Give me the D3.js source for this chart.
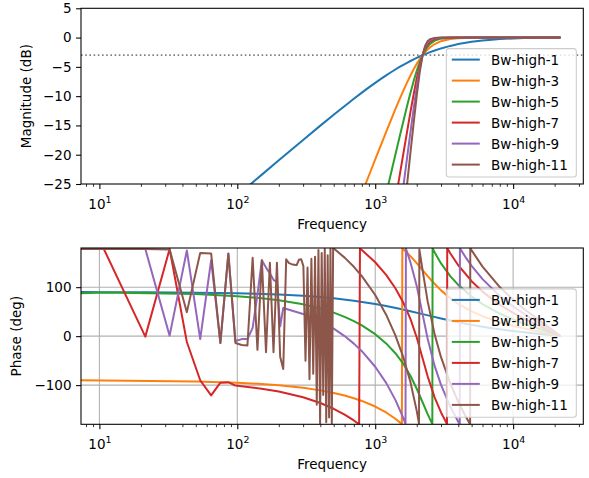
<!DOCTYPE html>
<html>
<head>
<meta charset="utf-8">
<script src="https://cdn.jsdelivr.net/npm/d3@7"></script>
<style>
    body { margin: 0; background: #fff; }
    svg text { font-family: "DejaVu Sans", sans-serif; fill: #000; }
</style>
</head>
<body>
<div id="chart"></div>
<script>
// legend labels and the matplotlib tab10 colours
const seriesNames = ['Bw-high-1', 'Bw-high-3', 'Bw-high-5', 'Bw-high-7', 'Bw-high-9', 'Bw-high-11'];
const seriesColors = ['#1f77b4', '#ff7f0e', '#2ca02c', '#d62728', '#9467bd', '#8c564b'];

// tick values
const xMajorTicks = [10, 100, 1000, 10000];
const xMajorExponents = ['1', '2', '3', '4'];
const magTicks = [5, 0, -5, -10, -15, -20, -25];
const phaseTicks = [-100, 0, 100];
const cutoffLevel = -3;

// magnitude (dB)
const magFreq = [100, 150, 200, 300, 400, 500, 700, 800, 900, 1000, 1100, 1200, 1300, 1400, 1500, 1600, 1700, 1800, 1900, 2000,
    2100, 2205, 2300, 2400, 2500, 2700, 3000, 3500, 4000, 5000, 6000, 7000, 8000, 10000, 12000, 15000, 18000, 22039];
const mag1 = [-26.95, -23.44, -20.95, -17.47, -15.03, -13.17, -10.44, -9.40, -8.50, -7.73, -7.05, -6.45, -5.92, -5.45, -5.02, -4.65, -4.30, -4.00, -3.72, -3.46,
    -3.23, -3.01, -2.83, -2.65, -2.49, -2.20, -1.85, -1.42, -1.11, -0.72, -0.50, -0.35, -0.26, -0.14, -0.08, -0.03, -0.01, 0];
const mag3 = [-80.8, -70.25, -62.76, -52.19, -44.69, -38.87, -30.10, -26.62, -23.55, -20.81, -18.35, -16.11, -14.08, -12.23, -10.55, -9.04, -7.68, -6.47, -5.41, -4.49,
    -3.70, -3.01, -2.49, -2.03, -1.66, -1.10, -0.61, -0.24, -0.11, -0.03, -0.01, 0, 0, 0, 0, 0, 0, 0];
const mag5 = [null, null, null, null, null, null, null, null, -39.2, -34.63, -30.48, -26.69, -23.20, -19.99, -17.01, -14.27, -11.74, -9.46, -7.43, -5.67,
    -4.22, -3.01, -2.18, -1.53, -1.07, -0.52, -0.18, -0.04, -0.01, 0, 0, 0, 0, 0, 0, 0, 0, 0];
const mag7 = [null, null, null, null, null, null, null, null, null, null, -42.66, -37.35, -32.46, -27.93, -23.71, -19.79, -16.13, -12.74, -9.68, -6.99,
    -4.77, -3.01, -1.90, -1.14, -0.67, -0.23, -0.05, -0.01, 0, 0, 0, 0, 0, 0, 0, 0, 0, 0];
const mag9 = [null, null, null, null, null, null, null, null, null, null, null, null, -41.73, -35.90, -30.47, -25.39, -20.63, -16.19, -12.08, -8.42,
    -5.37, -3.01, -1.65, -0.83, -0.41, -0.10, -0.02, 0, 0, 0, 0, 0, 0, 0, 0, 0, 0, 0];
const mag11 = [null, null, null, null, null, null, null, null, null, null, null, null, null, -43.87, -37.24, -31.02, -25.19, -19.70, -14.58, -9.93,
    -5.99, -3.01, -1.43, -0.61, -0.25, -0.05, 0, 0, 0, 0, 0, 0, 0, 0, 0, 0, 0, 0];

// phase (deg); 0 Hz sits on the left edge
const phaseFreq1 = [0, 10.77, 21.53, 50, 100, 150, 200, 300, 400, 500, 700, 1000, 1200, 1500, 1800, 2205, 2500, 3000, 3500, 4000,
    5000, 6000, 7000, 8000, 10000, 12000, 15000, 18000, 22039];
const phase1 = [90, 89.72, 89.45, 88.71, 87.42, 86.14, 84.86, 82.31, 79.80, 77.32, 72.51, 65.75, 61.58, 55.89, 50.85, 45, 41.35, 36.12, 31.88, 28.40,
    23.06, 19.17, 16.22, 13.88, 10.39, 7.84, 4.97, 2.69, 0.01];

const phaseFreq3 = [0, 10.77, 50, 100, 150, 200, 300, 400, 500, 600, 700, 800, 1000, 1200, 1400, 1561, 1572, 1600, 1800, 2000,
    2205, 2400, 2700, 3000, 3500, 4000, 5000, 6000, 8000, 10000, 12000, 15000, 18000, 22039];
const phase3 = [-90, -90.56, -92.58, -95.16, -97.74, -100.32, -105.51, -110.73, -116.00, -121.32, -126.77, -132.30, -143.74, -155.84, -168.72, -179.67, 179.60, 177.59, 163.35, 149.06,
    135, 122.73, 106.52, 93.48, 77.29, 65.78, 50.53, 40.75, 28.63, 21.14, 15.84, 9.98, 5.39, 0.02];

const phaseFreq5 = [0, 10.77, 50, 100, 150, 200, 300, 400, 500, 600, 700, 800, 1000, 1200, 1400, 1600, 1800, 2000, 2205, 2400,
    2595, 2606, 2700, 3000, 3500, 4000, 5000, 6000, 8000, 10000, 12000, 15000, 18000, 22039];
const phase5 = [87.5, 89.1, 85.83, 81.66, 77.48, 73.30, 64.92, 56.50, 48.02, 39.47, 30.80, 22.03, 4.05, -14.79, -34.86, -56.73, -80.95, -107.37, -135, -159.18,
    -179.59, 179.34, 170.72, 148.50, 122.62, 104.71, 80.94, 65.53, 46.19, 34.15, 25.61, 16.14, 8.72, 0.03];

const phaseFreq7 = [0, 10.77, 21.53, 32.30, 43.07, 53.83, 64.60, 75.37, 86.13, 96.90, 150, 200, 300, 400, 500, 600, 700, 764.4, 775.2, 800,
    1000, 1200, 1400, 1600, 1800, 2000, 2205, 2400, 2700, 3000, 3316, 3327, 3500, 4000, 5000, 6000, 8000, 10000, 12000, 15000,
    18000, 22039];
const phase7 = [178, 178, -1, 178, -12, -90, -121, -95, -94, -101, -107.38, -113.19, -124.82, -136.52, -148.28, -160.13, -172.14, -179.93, 178.76, 175.74,
    150.92, 125.09, 97.78, 68.23, 35.14, -2.80, -45, -82.05, -125.44, -155.84, -179.5, 179.8, 169.18, 144.80, 112.18, 90.89, 64.11, 47.41, 35.56, 22.42,
    12.11, 0.05];

const phaseFreq9 = [0, 10.77, 21.53, 32.30, 43.07, 53.83, 64.60, 75.37, 86.13, 96.90, 107.67, 118.43, 129.20, 139.97, 150.73, 161.50, 172.27, 183.03, 193.80, 204.57,
    215.33, 300, 400, 500, 600, 700, 800, 1000, 1200, 1400, 1600, 1658, 1669, 1800, 2000, 2205, 2400, 2700, 3000, 3500,
    4000, 4102, 4113, 4500, 5000, 6000, 8000, 10000, 12000, 15000, 18000, 22039];
const phase9 = [178, 178, 178, 1, 175, -6, 155, -14, 168, -10, -6, -6, 17, 85, 155, 140, 128, 115, 110, 20,
    57.5, 45.38, 30.40, 15.33, 0.15, -15.22, -30.74, -62.47, -95.43, -130.12, -167.43, -178.97, 178.78, 150.95, 102.20, 45, -5.41, -61.34, -99.56, -143.73,
    -174.70, -179.97, 179.52, 161.97, 143.64, 116.42, 82.14, 60.75, 45.56, 28.73, 15.51, 0.06];

const phaseFreq11 = [0, 10.77, 21.53, 32.30, 43.07, 53.83, 64.60, 75.37, 86.13, 96.90, 107.67, 118.43, 129.20, 139.97, 150.73, 161.50, 172.27, 183.03, 193.80, 204.57,
    215.33, 226.10, 236.87, 247.63, 258.40, 269.17, 279.93, 290.70, 301.46, 312.23, 323.00, 333.76, 344.53, 355.30, 366.06, 376.83, 387.60, 398.36, 409.13, 419.90,
    430.66, 441.43, 452.20, 462.96, 473.73, 484.50, 495.26, 506.03, 600, 700, 800, 1000, 1200, 1400, 1600, 1800, 2000, 2078, 2089, 2205,
    2400, 2700, 3000, 3500, 4000, 4500, 4877, 4888, 5000, 6000, 8000, 10000, 12000, 15000, 18000, 22039];
const phase11 = [178, 178, 178, 177, 49, 170, 169, -14, 169, -14, -18, -19, 160, -28, 155, -33, 150, -33, 150, -42,
    -67, 157, 149, 147, 146, 145, 156, 157, 143, -50, 140, -88, 158, -77, 162, -140, 176, -178, 170, -120,
    178, -176, 165, -166, 178, -178, 179.76, 177.79, 160.38, 141.65, 122.71, 84.05, 43.91, 1.75, -43.46, -93.56, -152.6, -179.09, 177.09, 135,
    71.00, 3.09, -42.9, -96.39, -134.07, -162.47, -179.73, 179.80, 175.20, 142.02, 100.21, 74.12, 55.59, 35.05, 18.93, 0.08];

const magSeries = [mag1, mag3, mag5, mag7, mag9, mag11];
const phaseFreqs = [phaseFreq1, phaseFreq3, phaseFreq5, phaseFreq7, phaseFreq9, phaseFreq11];
const phaseSeries = [phase1, phase3, phase5, phase7, phase9, phase11];

// figure layout (pixels)
const w = 589;
const h = 478;
const left = 81, right = 583.3;
const topPanel = { top: 8.3, bottom: 184 };
const bottomPanel = { top: 248, bottom: 424.3 };
const fontSize = 13.5;

const svg = d3.select('#chart')
    .append('svg')
    .attr('width', w)
    .attr('height', h);

// x limits like matplotlib autoscale: 5% margin in log space around the positive frequencies
const positiveF = phaseFreqs.flat().filter(f => f > 0);
const logLo = Math.log10(d3.min(positiveF));
const logHi = Math.log10(d3.max(positiveF));
const pad = (logHi - logLo) * 0.05;

const xScale = d3.scaleLog()
    .domain([Math.pow(10, logLo - pad), Math.pow(10, logHi + pad)])
    .range([left, right])
    .clamp(true);

const magScale = d3.scaleLinear().domain([-25, 5]).range([topPanel.bottom, topPanel.top]);
const phaseScale = d3.scaleLinear().domain([-180, 180]).range([bottomPanel.bottom, bottomPanel.top]);

const defs = svg.append('defs');

function drawPanel(panel, yScale, yTicks, yLabel, id, withGrid) {
    const g = svg.append('g').attr('id', id);

    defs.append('clipPath')
        .attr('id', id + '-clip')
        .append('rect')
        .attr('x', left)
        .attr('y', panel.top)
        .attr('width', right - left)
        .attr('height', panel.bottom - panel.top);

    if (withGrid) {
        g.append('g').selectAll('line')
            .data(xMajorTicks)
            .enter()
            .append('line')
            .attr('x1', d => xScale(d)).attr('x2', d => xScale(d))
            .attr('y1', panel.top).attr('y2', panel.bottom)
            .attr('stroke', '#b0b0b0').attr('stroke-width', 1.07);
        g.append('g').selectAll('line')
            .data(yTicks)
            .enter()
            .append('line')
            .attr('x1', left).attr('x2', right)
            .attr('y1', d => yScale(d)).attr('y2', d => yScale(d))
            .attr('stroke', '#b0b0b0').attr('stroke-width', 1.07);
    }

    // minor x ticks
    const minorTicks = xScale.ticks().filter(t => !xMajorTicks.includes(t));
    const minorAxis = g.append('g')
        .attr('transform', `translate(0,${panel.bottom})`)
        .call(d3.axisBottom(xScale).tickValues(minorTicks).tickSize(2.8).tickSizeOuter(0).tickFormat(() => ''));
    minorAxis.select('.domain').remove();
    minorAxis.selectAll('line').attr('stroke-width', 0.8);

    // major x ticks with 10^n labels
    const majorAxis = g.append('g')
        .attr('transform', `translate(0,${panel.bottom})`)
        .call(d3.axisBottom(xScale).tickValues(xMajorTicks).tickSize(4.9).tickSizeOuter(0).tickFormat(() => ''));
    majorAxis.select('.domain').remove();
    majorAxis.selectAll('line').attr('stroke-width', 1.07);
    majorAxis.selectAll('.tick text').remove();
    majorAxis.selectAll('.tick')
        .append('text')
        .attr('y', 24.8)
        .attr('text-anchor', 'middle')
        .style('font-size', fontSize + 'px')
        .each(function (d, i) {
            const t = d3.select(this);
            t.append('tspan').text('10');
            t.append('tspan').attr('dy', -6).style('font-size', (fontSize * 0.7) + 'px').text(xMajorExponents[i]);
        });

    // y axis
    const yAxis = g.append('g')
        .attr('transform', `translate(${left},0)`)
        .call(d3.axisLeft(yScale).tickValues(yTicks).tickSize(4.9).tickPadding(4.6).tickSizeOuter(0));
    yAxis.select('.domain').remove();
    yAxis.selectAll('line').attr('stroke-width', 1.07);
    yAxis.selectAll('text')
        .style('font-size', fontSize + 'px')
        .style('font-family', '"DejaVu Sans", sans-serif');

    // axis labels
    g.append('text')
        .attr('x', (left + right) / 2)
        .attr('y', panel.bottom + 44.6)
        .attr('text-anchor', 'middle')
        .style('font-size', fontSize + 'px')
        .text('Frequency');

    g.append('text')
        .attr('transform', `translate(${id === 'mag' ? 30.5 : 21.3},${(panel.top + panel.bottom) / 2}) rotate(-90)`)
        .attr('text-anchor', 'middle')
        .style('font-size', fontSize + 'px')
        .text(yLabel);

    return g;
}

function drawLegend(g, panel) {
    const boxW = 130, boxH = 128.4;
    const bx = right - 7 - boxW;
    const by = panel.bottom - 7 - boxH;
    const legend = g.append('g').attr('class', 'legend');

    legend.append('rect')
        .attr('x', bx).attr('y', by)
        .attr('width', boxW).attr('height', boxH)
        .attr('rx', 2.8)
        .attr('fill', 'white').attr('fill-opacity', 0.8)
        .attr('stroke', '#cccccc').attr('stroke-width', 1.07);

    const items = legend.selectAll('.item')
        .data(seriesNames)
        .enter()
        .append('g')
        .attr('class', 'item')
        .attr('transform', (d, i) => `translate(${bx},${by + 11 + i * 21})`);

    items.append('line')
        .attr('x1', 5.5).attr('x2', 33.5)
        .attr('stroke', (d, i) => seriesColors[i])
        .attr('stroke-width', 2);

    items.append('text')
        .attr('x', 44.8)
        .attr('y', 4.9)
        .style('font-size', fontSize + 'px')
        .text(d => d);
}

// top panel: magnitude
const magG = drawPanel(topPanel, magScale, magTicks, 'Magnitude (dB)', 'mag', false);

const magLine = d3.line()
    .defined(d => d.v !== null)
    .x(d => xScale(d.f))
    .y(d => magScale(d.v));

const magPlot = magG.append('g').attr('clip-path', 'url(#mag-clip)');

magPlot.append('line')
    .attr('x1', left).attr('x2', right)
    .attr('y1', magScale(cutoffLevel)).attr('y2', magScale(cutoffLevel))
    .attr('stroke', 'gray')
    .attr('stroke-width', 1.6)
    .attr('stroke-dasharray', '1.6,2.6');

magSeries.forEach((vals, i) => {
    magPlot.append('path')
        .datum(vals.map((v, j) => ({ f: magFreq[j], v: v })))
        .attr('fill', 'none')
        .attr('stroke', seriesColors[i])
        .attr('stroke-width', 2)
        .attr('d', magLine);
});

// bottom panel: phase
const phaseG = drawPanel(bottomPanel, phaseScale, phaseTicks, 'Phase (deg)', 'phase', true);

const phaseLine = d3.line()
    .x(d => xScale(d.f))
    .y(d => phaseScale(d.v));

const phasePlot = phaseG.append('g').attr('clip-path', 'url(#phase-clip)');

phaseSeries.forEach((vals, i) => {
    phasePlot.append('path')
        .datum(vals.map((v, j) => ({ f: phaseFreqs[i][j], v: v })))
        .attr('fill', 'none')
        .attr('stroke', seriesColors[i])
        .attr('stroke-width', 2)
        .attr('stroke-linejoin', 'round')
        .attr('d', phaseLine);
});

// spines on top of everything
[topPanel, bottomPanel].forEach(p => {
    svg.append('rect')
        .attr('x', left).attr('y', p.top)
        .attr('width', right - left).attr('height', p.bottom - p.top)
        .attr('fill', 'none')
        .attr('stroke', '#000')
        .attr('stroke-width', 1.07);
});

drawLegend(svg, topPanel);
drawLegend(svg, bottomPanel);
</script>
</body>
</html>
